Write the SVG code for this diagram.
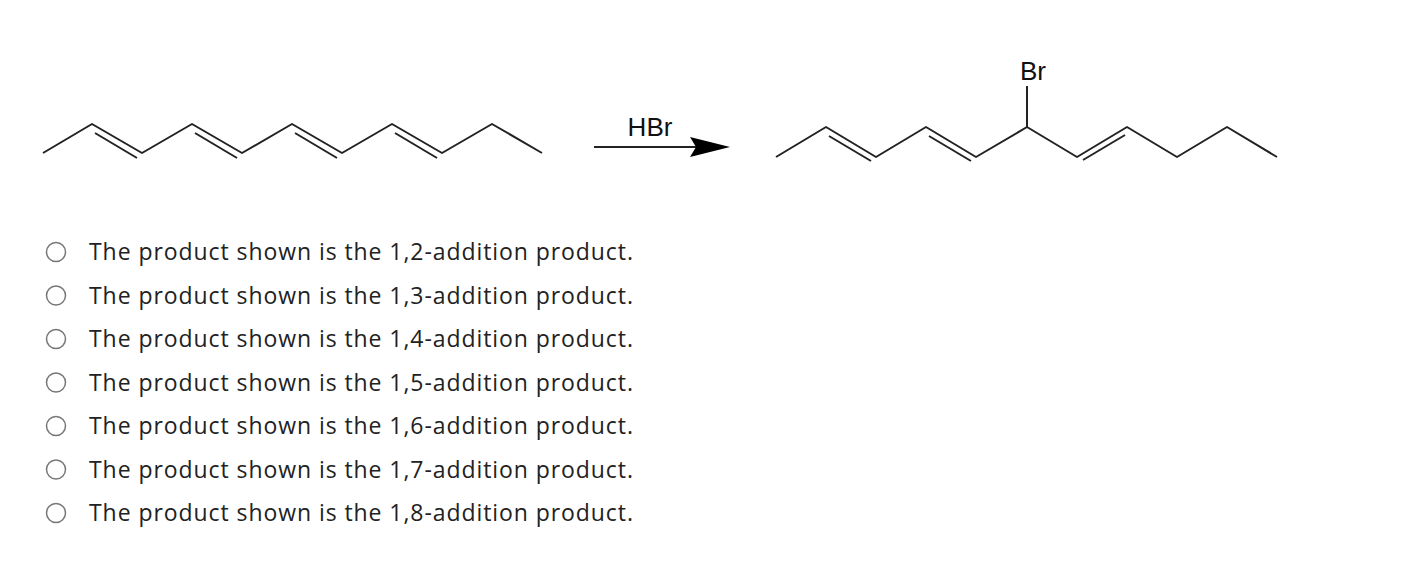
<svg xmlns="http://www.w3.org/2000/svg" width="1416" height="562" viewBox="0 0 1416 562">
<style>
.b{stroke:#222;stroke-width:2;fill:none;stroke-linejoin:round}
.t{font-family:"Open Sans",sans-serif;font-size:23px;fill:#222}
.c{fill:#fff;stroke:#777;stroke-width:1.5}
.l{font-family:"Liberation Sans",Arial,sans-serif;font-size:26px;fill:#111}
</style>
<rect width="1416" height="562" fill="#fff"/>
<g id="reactant">
<polyline class="b" points="43,153 92,124 142,153 192,124 242,153 292,124 342,153 392,124 442,153 492,124 542,153"/>
<line class="b" x1="95" y1="133" x2="137" y2="158"/>
<line class="b" x1="195" y1="133" x2="237" y2="158"/>
<line class="b" x1="295" y1="133" x2="337" y2="158"/>
<line class="b" x1="395" y1="133" x2="437" y2="158"/>
</g>
<g id="connectors">
<line class="b" x1="594" y1="147" x2="700" y2="147"/>
<polygon points="690,137 730,147 690,157 696,147" fill="#000"/>
<text class="l" x="650" y="136" text-anchor="middle">HBr</text>
</g>
<g id="product">
<polyline class="b" points="776,157 826,127 876,157 926,127 976,157 1027,127 1077,157 1127,127 1177,157 1227,127 1277,157"/>
<line class="b" x1="829" y1="136" x2="871" y2="161"/>
<line class="b" x1="929" y1="136" x2="971" y2="161"/>
<line class="b" x1="1083" y1="160" x2="1125" y2="135"/>
<line class="b" x1="1027" y1="127" x2="1027" y2="86"/>
<text class="l" x="1033" y="80" text-anchor="middle">Br</text>
</g>
<g id="options">
<circle class="c" cx="56" cy="252" r="9.5"/><text class="t" x="89" y="260" textLength="544">The product shown is the 1,2-addition product.</text>
<circle class="c" cx="56" cy="295.5" r="9.5"/><text class="t" x="89" y="303.5" textLength="544">The product shown is the 1,3-addition product.</text>
<circle class="c" cx="56" cy="339" r="9.5"/><text class="t" x="89" y="347" textLength="544">The product shown is the 1,4-addition product.</text>
<circle class="c" cx="56" cy="382.5" r="9.5"/><text class="t" x="89" y="390.5" textLength="544">The product shown is the 1,5-addition product.</text>
<circle class="c" cx="56" cy="426" r="9.5"/><text class="t" x="89" y="434" textLength="544">The product shown is the 1,6-addition product.</text>
<circle class="c" cx="56" cy="469.5" r="9.5"/><text class="t" x="89" y="477.5" textLength="544">The product shown is the 1,7-addition product.</text>
<circle class="c" cx="56" cy="513" r="9.5"/><text class="t" x="89" y="521" textLength="544">The product shown is the 1,8-addition product.</text>
</g>
</svg>
